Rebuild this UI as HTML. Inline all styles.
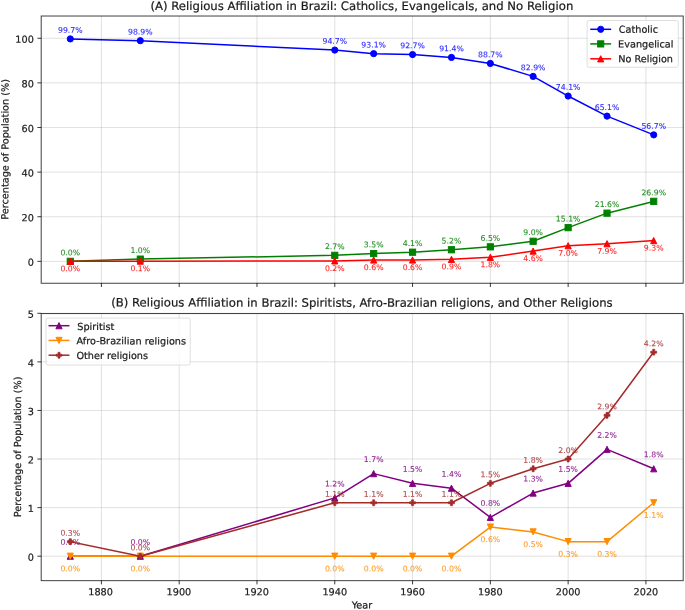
<!DOCTYPE html>
<html lang="en"><head><meta charset="utf-8"><title>Religious Affiliation in Brazil</title>
<style>html,body{margin:0;padding:0;background:#fff}svg{display:block}text{font-family:'DejaVu Sans','Liberation Sans',sans-serif;stroke-width:0.22px}.a text{stroke-width:0.12px}</style>
</head><body>
<svg width="685" height="610" viewBox="0 0 685 610">
<rect width="685" height="610" fill="#fff"/>
<text transform="translate(361.9 10) rotate(0.03)" font-size="11.66" text-anchor="middle" fill="#1a1a1a" stroke="#1a1a1a">(A) Religious Affiliation in Brazil: Catholics, Evangelicals, and No Religion</text>
<path d="M101.4 15.77V283M179.19 15.77V283M256.98 15.77V283M334.77 15.77V283M412.56 15.77V283M490.35 15.77V283M568.14 15.77V283M645.93 15.77V283M41.2 261.35H683.2M41.2 216.73H683.2M41.2 172.11H683.2M41.2 127.49H683.2M41.2 82.87H683.2M41.2 38.25H683.2" stroke="#b0b0b0" stroke-opacity="0.38" stroke-width="1.0" fill="none"/>
<g>
<polyline points="70.28,38.92 140.3,40.7 334.77,50.07 373.66,53.64 412.56,54.54 451.46,57.44 490.35,63.46 533.13,76.4 568.14,96.03 607.03,116.11 653.71,134.85" fill="none" stroke="#0000ff" stroke-width="1.5" stroke-linejoin="round" stroke-linecap="square"/>
<circle cx="70.28" cy="38.92" r="3.1" fill="#0000ff" stroke="#0000ff" stroke-width="0.97"/>
<circle cx="140.3" cy="40.7" r="3.1" fill="#0000ff" stroke="#0000ff" stroke-width="0.97"/>
<circle cx="334.77" cy="50.07" r="3.1" fill="#0000ff" stroke="#0000ff" stroke-width="0.97"/>
<circle cx="373.66" cy="53.64" r="3.1" fill="#0000ff" stroke="#0000ff" stroke-width="0.97"/>
<circle cx="412.56" cy="54.54" r="3.1" fill="#0000ff" stroke="#0000ff" stroke-width="0.97"/>
<circle cx="451.46" cy="57.44" r="3.1" fill="#0000ff" stroke="#0000ff" stroke-width="0.97"/>
<circle cx="490.35" cy="63.46" r="3.1" fill="#0000ff" stroke="#0000ff" stroke-width="0.97"/>
<circle cx="533.13" cy="76.4" r="3.1" fill="#0000ff" stroke="#0000ff" stroke-width="0.97"/>
<circle cx="568.14" cy="96.03" r="3.1" fill="#0000ff" stroke="#0000ff" stroke-width="0.97"/>
<circle cx="607.03" cy="116.11" r="3.1" fill="#0000ff" stroke="#0000ff" stroke-width="0.97"/>
<circle cx="653.71" cy="134.85" r="3.1" fill="#0000ff" stroke="#0000ff" stroke-width="0.97"/>
</g>
<g class="a" font-size="7.76" text-anchor="middle" fill="#0000ff" stroke="#0000ff" opacity="0.85">
<text transform="translate(70.28 32.72) rotate(0.03)">99.7%</text>
<text transform="translate(140.3 34.5) rotate(0.03)">98.9%</text>
<text transform="translate(334.77 43.87) rotate(0.03)">94.7%</text>
<text transform="translate(373.66 47.44) rotate(0.03)">93.1%</text>
<text transform="translate(412.56 48.34) rotate(0.03)">92.7%</text>
<text transform="translate(451.46 51.24) rotate(0.03)">91.4%</text>
<text transform="translate(490.35 57.26) rotate(0.03)">88.7%</text>
<text transform="translate(533.13 70.2) rotate(0.03)">82.9%</text>
<text transform="translate(568.14 89.83) rotate(0.03)">74.1%</text>
<text transform="translate(607.03 109.91) rotate(0.03)">65.1%</text>
<text transform="translate(653.71 128.65) rotate(0.03)">56.7%</text>
</g>
<g>
<polyline points="70.28,261.35 140.3,259.12 334.77,255.33 373.66,253.54 412.56,252.2 451.46,249.75 490.35,246.85 533.13,241.27 568.14,227.66 607.03,213.16 653.71,201.34" fill="none" stroke="#008000" stroke-width="1.5" stroke-linejoin="round" stroke-linecap="square"/>
<rect x="67.18" y="258.25" width="6.2" height="6.2" fill="#008000" stroke="#008000" stroke-width="0.97"/>
<rect x="137.2" y="256.02" width="6.2" height="6.2" fill="#008000" stroke="#008000" stroke-width="0.97"/>
<rect x="331.67" y="252.23" width="6.2" height="6.2" fill="#008000" stroke="#008000" stroke-width="0.97"/>
<rect x="370.56" y="250.44" width="6.2" height="6.2" fill="#008000" stroke="#008000" stroke-width="0.97"/>
<rect x="409.46" y="249.1" width="6.2" height="6.2" fill="#008000" stroke="#008000" stroke-width="0.97"/>
<rect x="448.36" y="246.65" width="6.2" height="6.2" fill="#008000" stroke="#008000" stroke-width="0.97"/>
<rect x="487.25" y="243.75" width="6.2" height="6.2" fill="#008000" stroke="#008000" stroke-width="0.97"/>
<rect x="530.03" y="238.17" width="6.2" height="6.2" fill="#008000" stroke="#008000" stroke-width="0.97"/>
<rect x="565.04" y="224.56" width="6.2" height="6.2" fill="#008000" stroke="#008000" stroke-width="0.97"/>
<rect x="603.93" y="210.06" width="6.2" height="6.2" fill="#008000" stroke="#008000" stroke-width="0.97"/>
<rect x="650.61" y="198.24" width="6.2" height="6.2" fill="#008000" stroke="#008000" stroke-width="0.97"/>
</g>
<g class="a" font-size="7.76" text-anchor="middle" fill="#008000" stroke="#008000" opacity="0.85">
<text transform="translate(70.28 255.15) rotate(0.03)">0.0%</text>
<text transform="translate(140.3 252.92) rotate(0.03)">1.0%</text>
<text transform="translate(334.77 249.13) rotate(0.03)">2.7%</text>
<text transform="translate(373.66 247.34) rotate(0.03)">3.5%</text>
<text transform="translate(412.56 246) rotate(0.03)">4.1%</text>
<text transform="translate(451.46 243.55) rotate(0.03)">5.2%</text>
<text transform="translate(490.35 240.65) rotate(0.03)">6.5%</text>
<text transform="translate(533.13 235.07) rotate(0.03)">9.0%</text>
<text transform="translate(568.14 221.46) rotate(0.03)">15.1%</text>
<text transform="translate(607.03 206.96) rotate(0.03)">21.6%</text>
<text transform="translate(653.71 195.14) rotate(0.03)">26.9%</text>
</g>
<g>
<polyline points="70.28,261.35 140.3,261.13 334.77,260.9 373.66,260.01 412.56,260.01 451.46,259.34 490.35,257.33 533.13,251.09 568.14,245.73 607.03,243.73 653.71,240.6" fill="none" stroke="#ff0000" stroke-width="1.5" stroke-linejoin="round" stroke-linecap="square"/>
<polygon points="70.28,258.25 67.18,264.45 73.38,264.45" fill="#ff0000" stroke="#ff0000" stroke-width="0.97" stroke-linejoin="miter"/>
<polygon points="140.3,258.03 137.2,264.23 143.4,264.23" fill="#ff0000" stroke="#ff0000" stroke-width="0.97" stroke-linejoin="miter"/>
<polygon points="334.77,257.8 331.67,264 337.87,264" fill="#ff0000" stroke="#ff0000" stroke-width="0.97" stroke-linejoin="miter"/>
<polygon points="373.66,256.91 370.56,263.11 376.76,263.11" fill="#ff0000" stroke="#ff0000" stroke-width="0.97" stroke-linejoin="miter"/>
<polygon points="412.56,256.91 409.46,263.11 415.66,263.11" fill="#ff0000" stroke="#ff0000" stroke-width="0.97" stroke-linejoin="miter"/>
<polygon points="451.46,256.24 448.36,262.44 454.56,262.44" fill="#ff0000" stroke="#ff0000" stroke-width="0.97" stroke-linejoin="miter"/>
<polygon points="490.35,254.23 487.25,260.43 493.45,260.43" fill="#ff0000" stroke="#ff0000" stroke-width="0.97" stroke-linejoin="miter"/>
<polygon points="533.13,247.99 530.03,254.19 536.23,254.19" fill="#ff0000" stroke="#ff0000" stroke-width="0.97" stroke-linejoin="miter"/>
<polygon points="568.14,242.63 565.04,248.83 571.24,248.83" fill="#ff0000" stroke="#ff0000" stroke-width="0.97" stroke-linejoin="miter"/>
<polygon points="607.03,240.63 603.93,246.83 610.13,246.83" fill="#ff0000" stroke="#ff0000" stroke-width="0.97" stroke-linejoin="miter"/>
<polygon points="653.71,237.5 650.61,243.7 656.81,243.7" fill="#ff0000" stroke="#ff0000" stroke-width="0.97" stroke-linejoin="miter"/>
</g>
<g class="a" font-size="7.76" text-anchor="middle" fill="#ff0000" stroke="#ff0000" opacity="0.85">
<text transform="translate(70.28 271.35) rotate(0.03)">0.0%</text>
<text transform="translate(140.3 271.13) rotate(0.03)">0.1%</text>
<text transform="translate(334.77 270.9) rotate(0.03)">0.2%</text>
<text transform="translate(373.66 270.01) rotate(0.03)">0.6%</text>
<text transform="translate(412.56 270.01) rotate(0.03)">0.6%</text>
<text transform="translate(451.46 269.34) rotate(0.03)">0.9%</text>
<text transform="translate(490.35 267.33) rotate(0.03)">1.8%</text>
<text transform="translate(533.13 261.09) rotate(0.03)">4.6%</text>
<text transform="translate(568.14 255.73) rotate(0.03)">7.0%</text>
<text transform="translate(607.03 253.73) rotate(0.03)">7.9%</text>
<text transform="translate(653.71 250.6) rotate(0.03)">9.3%</text>
</g>
<path d="M101.4 283v4M179.19 283v4M256.98 283v4M334.77 283v4M412.56 283v4M490.35 283v4M568.14 283v4M645.93 283v4M41.2 261.35h-3.8M41.2 216.73h-3.8M41.2 172.11h-3.8M41.2 127.49h-3.8M41.2 82.87h-3.8M41.2 38.25h-3.8" stroke="#000" stroke-width="0.78" fill="none"/>
<rect x="41.2" y="16.02" width="642" height="267.23" fill="none" stroke="#000" stroke-opacity="0.75" stroke-width="1.0"/>
<text transform="translate(33.8 265.85) rotate(0.03)" font-size="9.7" text-anchor="end" fill="#1a1a1a" stroke="#1a1a1a">0</text>
<text transform="translate(33.8 221.23) rotate(0.03)" font-size="9.7" text-anchor="end" fill="#1a1a1a" stroke="#1a1a1a">20</text>
<text transform="translate(33.8 176.61) rotate(0.03)" font-size="9.7" text-anchor="end" fill="#1a1a1a" stroke="#1a1a1a">40</text>
<text transform="translate(33.8 131.99) rotate(0.03)" font-size="9.7" text-anchor="end" fill="#1a1a1a" stroke="#1a1a1a">60</text>
<text transform="translate(33.8 87.37) rotate(0.03)" font-size="9.7" text-anchor="end" fill="#1a1a1a" stroke="#1a1a1a">80</text>
<text transform="translate(33.8 42.75) rotate(0.03)" font-size="9.7" text-anchor="end" fill="#1a1a1a" stroke="#1a1a1a">100</text>
<text transform="translate(8.4 149.38) rotate(-89.97)" font-size="9.7" text-anchor="middle" fill="#1a1a1a" stroke="#1a1a1a">Percentage of Population (%)</text>
<rect x="587.1" y="20.5" width="91.2" height="46.8" rx="1.9" ry="1.9" fill="#fff" fill-opacity="0.8" stroke="#ccc" stroke-opacity="0.8" stroke-width="0.78"/>
<path d="M591 29.3H610.4" stroke="#0000ff" stroke-width="1.5" stroke-linecap="square"/>
<circle cx="600.7" cy="29.3" r="3.1" fill="#0000ff" stroke="#0000ff" stroke-width="0.97"/>
<text transform="translate(618.8 32.8) rotate(0.03)" font-size="9.7" fill="#1a1a1a" stroke="#1a1a1a">Catholic</text>
<path d="M591 43.9H610.4" stroke="#008000" stroke-width="1.5" stroke-linecap="square"/>
<rect x="597.6" y="40.8" width="6.2" height="6.2" fill="#008000" stroke="#008000" stroke-width="0.97"/>
<text transform="translate(618.1 47.4) rotate(0.03)" font-size="9.7" fill="#1a1a1a" stroke="#1a1a1a">Evangelical</text>
<path d="M591 58.8H610.4" stroke="#ff0000" stroke-width="1.5" stroke-linecap="square"/>
<polygon points="600.7,55.7 597.6,61.9 603.8,61.9" fill="#ff0000" stroke="#ff0000" stroke-width="0.97" stroke-linejoin="miter"/>
<text transform="translate(618.2 62.3) rotate(0.03)" font-size="9.7" fill="#1a1a1a" stroke="#1a1a1a">No Religion</text>
<text transform="translate(361.9 306.7) rotate(0.03)" font-size="11.66" text-anchor="middle" fill="#1a1a1a" stroke="#1a1a1a">(B) Religious Affiliation in Brazil: Spiritists, Afro-Brazilian religions, and Other Religions</text>
<path d="M101.4 313.3V580.4M179.19 313.3V580.4M256.98 313.3V580.4M334.77 313.3V580.4M412.56 313.3V580.4M490.35 313.3V580.4M568.14 313.3V580.4M645.93 313.3V580.4M41.2 556.2H683.2M41.2 507.62H683.2M41.2 459.04H683.2M41.2 410.46H683.2M41.2 361.88H683.2M41.2 313.3H683.2" stroke="#b0b0b0" stroke-opacity="0.38" stroke-width="1.0" fill="none"/>
<g>
<polyline points="70.28,556.2 140.3,556.2 334.77,497.9 373.66,473.61 412.56,483.33 451.46,488.19 490.35,517.34 533.13,493.05 568.14,483.33 607.03,449.32 653.71,468.76" fill="none" stroke="#800080" stroke-width="1.5" stroke-linejoin="round" stroke-linecap="square"/>
<polygon points="70.28,553.1 67.18,559.3 73.38,559.3" fill="#800080" stroke="#800080" stroke-width="0.97" stroke-linejoin="miter"/>
<polygon points="140.3,553.1 137.2,559.3 143.4,559.3" fill="#800080" stroke="#800080" stroke-width="0.97" stroke-linejoin="miter"/>
<polygon points="334.77,494.8 331.67,501 337.87,501" fill="#800080" stroke="#800080" stroke-width="0.97" stroke-linejoin="miter"/>
<polygon points="373.66,470.51 370.56,476.71 376.76,476.71" fill="#800080" stroke="#800080" stroke-width="0.97" stroke-linejoin="miter"/>
<polygon points="412.56,480.23 409.46,486.43 415.66,486.43" fill="#800080" stroke="#800080" stroke-width="0.97" stroke-linejoin="miter"/>
<polygon points="451.46,485.09 448.36,491.29 454.56,491.29" fill="#800080" stroke="#800080" stroke-width="0.97" stroke-linejoin="miter"/>
<polygon points="490.35,514.24 487.25,520.44 493.45,520.44" fill="#800080" stroke="#800080" stroke-width="0.97" stroke-linejoin="miter"/>
<polygon points="533.13,489.95 530.03,496.15 536.23,496.15" fill="#800080" stroke="#800080" stroke-width="0.97" stroke-linejoin="miter"/>
<polygon points="568.14,480.23 565.04,486.43 571.24,486.43" fill="#800080" stroke="#800080" stroke-width="0.97" stroke-linejoin="miter"/>
<polygon points="607.03,446.22 603.93,452.42 610.13,452.42" fill="#800080" stroke="#800080" stroke-width="0.97" stroke-linejoin="miter"/>
<polygon points="653.71,465.66 650.61,471.86 656.81,471.86" fill="#800080" stroke="#800080" stroke-width="0.97" stroke-linejoin="miter"/>
</g>
<g class="a" font-size="7.76" text-anchor="middle" fill="#800080" stroke="#800080" opacity="0.85">
<text transform="translate(70.28 544.7) rotate(0.03)">0.0%</text>
<text transform="translate(140.3 544.7) rotate(0.03)">0.0%</text>
<text transform="translate(334.77 486.4) rotate(0.03)">1.2%</text>
<text transform="translate(373.66 462.11) rotate(0.03)">1.7%</text>
<text transform="translate(412.56 471.83) rotate(0.03)">1.5%</text>
<text transform="translate(451.46 476.69) rotate(0.03)">1.4%</text>
<text transform="translate(490.35 505.84) rotate(0.03)">0.8%</text>
<text transform="translate(533.13 481.55) rotate(0.03)">1.3%</text>
<text transform="translate(568.14 471.83) rotate(0.03)">1.5%</text>
<text transform="translate(607.03 437.82) rotate(0.03)">2.2%</text>
<text transform="translate(653.71 457.26) rotate(0.03)">1.8%</text>
</g>
<g>
<polyline points="70.28,556.2 140.3,556.2 334.77,556.2 373.66,556.2 412.56,556.2 451.46,556.2 490.35,527.05 533.13,531.91 568.14,541.63 607.03,541.63 653.71,502.76" fill="none" stroke="#ff8c00" stroke-width="1.5" stroke-linejoin="round" stroke-linecap="square"/>
<polygon points="70.28,559.3 67.18,553.1 73.38,553.1" fill="#ff8c00" stroke="#ff8c00" stroke-width="0.97" stroke-linejoin="miter"/>
<polygon points="140.3,559.3 137.2,553.1 143.4,553.1" fill="#ff8c00" stroke="#ff8c00" stroke-width="0.97" stroke-linejoin="miter"/>
<polygon points="334.77,559.3 331.67,553.1 337.87,553.1" fill="#ff8c00" stroke="#ff8c00" stroke-width="0.97" stroke-linejoin="miter"/>
<polygon points="373.66,559.3 370.56,553.1 376.76,553.1" fill="#ff8c00" stroke="#ff8c00" stroke-width="0.97" stroke-linejoin="miter"/>
<polygon points="412.56,559.3 409.46,553.1 415.66,553.1" fill="#ff8c00" stroke="#ff8c00" stroke-width="0.97" stroke-linejoin="miter"/>
<polygon points="451.46,559.3 448.36,553.1 454.56,553.1" fill="#ff8c00" stroke="#ff8c00" stroke-width="0.97" stroke-linejoin="miter"/>
<polygon points="490.35,530.15 487.25,523.95 493.45,523.95" fill="#ff8c00" stroke="#ff8c00" stroke-width="0.97" stroke-linejoin="miter"/>
<polygon points="533.13,535.01 530.03,528.81 536.23,528.81" fill="#ff8c00" stroke="#ff8c00" stroke-width="0.97" stroke-linejoin="miter"/>
<polygon points="568.14,544.73 565.04,538.53 571.24,538.53" fill="#ff8c00" stroke="#ff8c00" stroke-width="0.97" stroke-linejoin="miter"/>
<polygon points="607.03,544.73 603.93,538.53 610.13,538.53" fill="#ff8c00" stroke="#ff8c00" stroke-width="0.97" stroke-linejoin="miter"/>
<polygon points="653.71,505.86 650.61,499.66 656.81,499.66" fill="#ff8c00" stroke="#ff8c00" stroke-width="0.97" stroke-linejoin="miter"/>
</g>
<g class="a" font-size="7.76" text-anchor="middle" fill="#ff8c00" stroke="#ff8c00" opacity="0.85">
<text transform="translate(70.28 571.2) rotate(0.03)">0.0%</text>
<text transform="translate(140.3 571.2) rotate(0.03)">0.0%</text>
<text transform="translate(334.77 571.2) rotate(0.03)">0.0%</text>
<text transform="translate(373.66 571.2) rotate(0.03)">0.0%</text>
<text transform="translate(412.56 571.2) rotate(0.03)">0.0%</text>
<text transform="translate(451.46 571.2) rotate(0.03)">0.0%</text>
<text transform="translate(490.35 542.05) rotate(0.03)">0.6%</text>
<text transform="translate(533.13 546.91) rotate(0.03)">0.5%</text>
<text transform="translate(568.14 556.63) rotate(0.03)">0.3%</text>
<text transform="translate(607.03 556.63) rotate(0.03)">0.3%</text>
<text transform="translate(653.71 517.76) rotate(0.03)">1.1%</text>
</g>
<g>
<polyline points="70.28,541.63 140.3,556.2 334.77,502.76 373.66,502.76 412.56,502.76 451.46,502.76 490.35,483.33 533.13,468.76 568.14,459.04 607.03,415.32 653.71,352.16" fill="none" stroke="#a52a2a" stroke-width="1.5" stroke-linejoin="round" stroke-linecap="square"/>
<polygon points="69.28,538.68 71.28,538.68 71.28,540.63 73.23,540.63 73.23,542.63 71.28,542.63 71.28,544.58 69.28,544.58 69.28,542.63 67.33,542.63 67.33,540.63 69.28,540.63" fill="#a52a2a" stroke="#a52a2a" stroke-width="0.7" stroke-linejoin="miter"/>
<polygon points="139.3,553.25 141.3,553.25 141.3,555.2 143.25,555.2 143.25,557.2 141.3,557.2 141.3,559.15 139.3,559.15 139.3,557.2 137.35,557.2 137.35,555.2 139.3,555.2" fill="#a52a2a" stroke="#a52a2a" stroke-width="0.7" stroke-linejoin="miter"/>
<polygon points="333.77,499.81 335.77,499.81 335.77,501.76 337.72,501.76 337.72,503.76 335.77,503.76 335.77,505.71 333.77,505.71 333.77,503.76 331.82,503.76 331.82,501.76 333.77,501.76" fill="#a52a2a" stroke="#a52a2a" stroke-width="0.7" stroke-linejoin="miter"/>
<polygon points="372.66,499.81 374.66,499.81 374.66,501.76 376.61,501.76 376.61,503.76 374.66,503.76 374.66,505.71 372.66,505.71 372.66,503.76 370.71,503.76 370.71,501.76 372.66,501.76" fill="#a52a2a" stroke="#a52a2a" stroke-width="0.7" stroke-linejoin="miter"/>
<polygon points="411.56,499.81 413.56,499.81 413.56,501.76 415.51,501.76 415.51,503.76 413.56,503.76 413.56,505.71 411.56,505.71 411.56,503.76 409.61,503.76 409.61,501.76 411.56,501.76" fill="#a52a2a" stroke="#a52a2a" stroke-width="0.7" stroke-linejoin="miter"/>
<polygon points="450.46,499.81 452.46,499.81 452.46,501.76 454.41,501.76 454.41,503.76 452.46,503.76 452.46,505.71 450.46,505.71 450.46,503.76 448.51,503.76 448.51,501.76 450.46,501.76" fill="#a52a2a" stroke="#a52a2a" stroke-width="0.7" stroke-linejoin="miter"/>
<polygon points="489.35,480.38 491.35,480.38 491.35,482.33 493.3,482.33 493.3,484.33 491.35,484.33 491.35,486.28 489.35,486.28 489.35,484.33 487.4,484.33 487.4,482.33 489.35,482.33" fill="#a52a2a" stroke="#a52a2a" stroke-width="0.7" stroke-linejoin="miter"/>
<polygon points="532.13,465.81 534.13,465.81 534.13,467.76 536.08,467.76 536.08,469.76 534.13,469.76 534.13,471.71 532.13,471.71 532.13,469.76 530.18,469.76 530.18,467.76 532.13,467.76" fill="#a52a2a" stroke="#a52a2a" stroke-width="0.7" stroke-linejoin="miter"/>
<polygon points="567.14,456.09 569.14,456.09 569.14,458.04 571.09,458.04 571.09,460.04 569.14,460.04 569.14,461.99 567.14,461.99 567.14,460.04 565.19,460.04 565.19,458.04 567.14,458.04" fill="#a52a2a" stroke="#a52a2a" stroke-width="0.7" stroke-linejoin="miter"/>
<polygon points="606.03,412.37 608.03,412.37 608.03,414.32 609.99,414.32 609.99,416.32 608.03,416.32 608.03,418.27 606.03,418.27 606.03,416.32 604.08,416.32 604.08,414.32 606.03,414.32" fill="#a52a2a" stroke="#a52a2a" stroke-width="0.7" stroke-linejoin="miter"/>
<polygon points="652.71,349.21 654.71,349.21 654.71,351.16 656.66,351.16 656.66,353.16 654.71,353.16 654.71,355.11 652.71,355.11 652.71,353.16 650.76,353.16 650.76,351.16 652.71,351.16" fill="#a52a2a" stroke="#a52a2a" stroke-width="0.7" stroke-linejoin="miter"/>
</g>
<g class="a" font-size="7.76" text-anchor="middle" fill="#a52a2a" stroke="#a52a2a" opacity="0.85">
<text transform="translate(70.28 535.63) rotate(0.03)">0.3%</text>
<text transform="translate(140.3 550.2) rotate(0.03)">0.0%</text>
<text transform="translate(334.77 496.76) rotate(0.03)">1.1%</text>
<text transform="translate(373.66 496.76) rotate(0.03)">1.1%</text>
<text transform="translate(412.56 496.76) rotate(0.03)">1.1%</text>
<text transform="translate(451.46 496.76) rotate(0.03)">1.1%</text>
<text transform="translate(490.35 477.33) rotate(0.03)">1.5%</text>
<text transform="translate(533.13 462.76) rotate(0.03)">1.8%</text>
<text transform="translate(568.14 453.04) rotate(0.03)">2.0%</text>
<text transform="translate(607.03 409.32) rotate(0.03)">2.9%</text>
<text transform="translate(653.71 346.16) rotate(0.03)">4.2%</text>
</g>
<path d="M101.4 580.4v4M179.19 580.4v4M256.98 580.4v4M334.77 580.4v4M412.56 580.4v4M490.35 580.4v4M568.14 580.4v4M645.93 580.4v4M41.2 556.2h-3.8M41.2 507.62h-3.8M41.2 459.04h-3.8M41.2 410.46h-3.8M41.2 361.88h-3.8M41.2 313.3h-3.8" stroke="#000" stroke-width="0.78" fill="none"/>
<rect x="41.2" y="313.55" width="642" height="267.1" fill="none" stroke="#000" stroke-opacity="0.75" stroke-width="1.0"/>
<text transform="translate(33.8 560.7) rotate(0.03)" font-size="9.7" text-anchor="end" fill="#1a1a1a" stroke="#1a1a1a">0</text>
<text transform="translate(33.8 512.12) rotate(0.03)" font-size="9.7" text-anchor="end" fill="#1a1a1a" stroke="#1a1a1a">1</text>
<text transform="translate(33.8 463.54) rotate(0.03)" font-size="9.7" text-anchor="end" fill="#1a1a1a" stroke="#1a1a1a">2</text>
<text transform="translate(33.8 414.96) rotate(0.03)" font-size="9.7" text-anchor="end" fill="#1a1a1a" stroke="#1a1a1a">3</text>
<text transform="translate(33.8 366.38) rotate(0.03)" font-size="9.7" text-anchor="end" fill="#1a1a1a" stroke="#1a1a1a">4</text>
<text transform="translate(33.8 317.8) rotate(0.03)" font-size="9.7" text-anchor="end" fill="#1a1a1a" stroke="#1a1a1a">5</text>
<text transform="translate(100.6 595.2) rotate(0.03)" font-size="9.7" text-anchor="middle" fill="#1a1a1a" stroke="#1a1a1a">1880</text>
<text transform="translate(178.89 595.2) rotate(0.03)" font-size="9.7" text-anchor="middle" fill="#1a1a1a" stroke="#1a1a1a">1900</text>
<text transform="translate(256.58 595.2) rotate(0.03)" font-size="9.7" text-anchor="middle" fill="#1a1a1a" stroke="#1a1a1a">1920</text>
<text transform="translate(334.77 595.2) rotate(0.03)" font-size="9.7" text-anchor="middle" fill="#1a1a1a" stroke="#1a1a1a">1940</text>
<text transform="translate(412.56 595.2) rotate(0.03)" font-size="9.7" text-anchor="middle" fill="#1a1a1a" stroke="#1a1a1a">1960</text>
<text transform="translate(490.35 595.2) rotate(0.03)" font-size="9.7" text-anchor="middle" fill="#1a1a1a" stroke="#1a1a1a">1980</text>
<text transform="translate(568.14 595.2) rotate(0.03)" font-size="9.7" text-anchor="middle" fill="#1a1a1a" stroke="#1a1a1a">2000</text>
<text transform="translate(645.93 595.2) rotate(0.03)" font-size="9.7" text-anchor="middle" fill="#1a1a1a" stroke="#1a1a1a">2020</text>
<text transform="translate(21 446.85) rotate(-89.97)" font-size="9.7" text-anchor="middle" fill="#1a1a1a" stroke="#1a1a1a">Percentage of Population (%)</text>
<text transform="translate(361.9 608.4) rotate(0.03)" font-size="9.7" text-anchor="middle" fill="#1a1a1a" stroke="#1a1a1a">Year</text>
<rect x="46" y="318.1" width="144.2" height="46.9" rx="1.9" ry="1.9" fill="#fff" fill-opacity="0.8" stroke="#ccc" stroke-opacity="0.8" stroke-width="0.78"/>
<path d="M49.3 325.7H68.7" stroke="#800080" stroke-width="1.5" stroke-linecap="square"/>
<polygon points="59,322.6 55.9,328.8 62.1,328.8" fill="#800080" stroke="#800080" stroke-width="0.97" stroke-linejoin="miter"/>
<text transform="translate(77.3 329.9) rotate(0.03)" font-size="9.7" fill="#1a1a1a" stroke="#1a1a1a">Spiritist</text>
<path d="M49.3 340.4H68.7" stroke="#ff8c00" stroke-width="1.5" stroke-linecap="square"/>
<polygon points="59,343.5 55.9,337.3 62.1,337.3" fill="#ff8c00" stroke="#ff8c00" stroke-width="0.97" stroke-linejoin="miter"/>
<text letter-spacing="0.04" transform="translate(76.5 344.35) rotate(0.03)" font-size="9.7" fill="#1a1a1a" stroke="#1a1a1a">Afro-Brazilian religions</text>
<path d="M49.3 355.2H68.7" stroke="#a52a2a" stroke-width="1.5" stroke-linecap="square"/>
<polygon points="58,352.25 60,352.25 60,354.2 61.95,354.2 61.95,356.2 60,356.2 60,358.15 58,358.15 58,356.2 56.05,356.2 56.05,354.2 58,354.2" fill="#a52a2a" stroke="#a52a2a" stroke-width="0.7" stroke-linejoin="miter"/>
<text transform="translate(76.4 358.95) rotate(0.03)" font-size="9.7" fill="#1a1a1a" stroke="#1a1a1a">Other religions</text>
</svg>
</body></html>
